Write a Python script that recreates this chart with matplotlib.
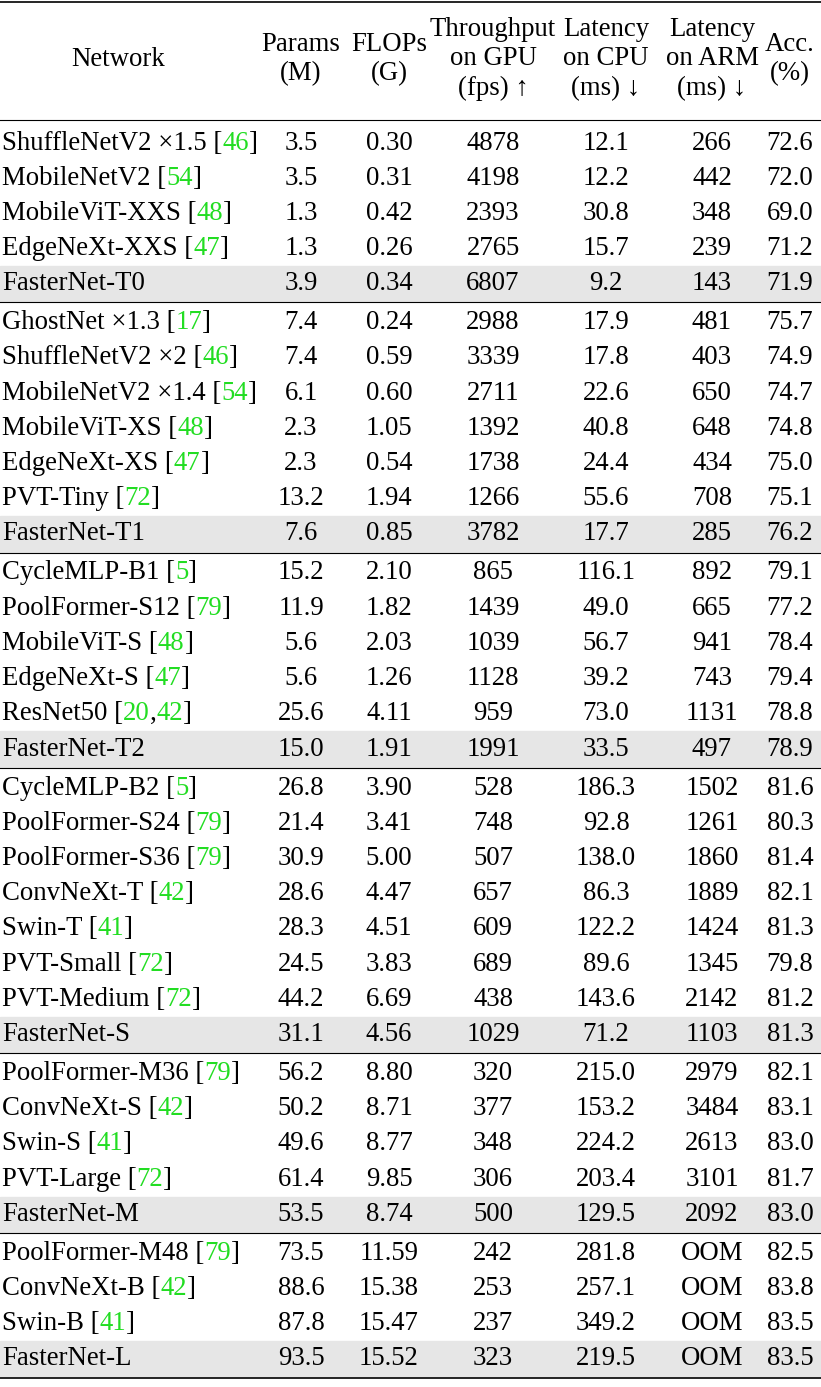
import matplotlib.pyplot as plt
from matplotlib.patches import Rectangle

plt.rcParams['font.family'] = ['Liberation Serif', 'DejaVu Serif']

# (name, citation, params, flops, gpu, cpu, arm, acc)
groups = [
    [("ShuffleNetV2 \u00d71.5", "46", "3.5", "0.30", "4878", "12.1", "266", "72.6"),
     ("MobileNetV2", "54", "3.5", "0.31", "4198", "12.2", "442", "72.0"),
     ("MobileViT-XXS", "48", "1.3", "0.42", "2393", "30.8", "348", "69.0"),
     ("EdgeNeXt-XXS", "47", "1.3", "0.26", "2765", "15.7", "239", "71.2"),
     ("FasterNet-T0", "", "3.9", "0.34", "6807", "9.2", "143", "71.9")],
    [("GhostNet \u00d71.3", "17", "7.4", "0.24", "2988", "17.9", "481", "75.7"),
     ("ShuffleNetV2 \u00d72", "46", "7.4", "0.59", "3339", "17.8", "403", "74.9"),
     ("MobileNetV2 \u00d71.4", "54", "6.1", "0.60", "2711", "22.6", "650", "74.7"),
     ("MobileViT-XS", "48", "2.3", "1.05", "1392", "40.8", "648", "74.8"),
     ("EdgeNeXt-XS", "47", "2.3", "0.54", "1738", "24.4", "434", "75.0"),
     ("PVT-Tiny", "72", "13.2", "1.94", "1266", "55.6", "708", "75.1"),
     ("FasterNet-T1", "", "7.6", "0.85", "3782", "17.7", "285", "76.2")],
    [("CycleMLP-B1", "5", "15.2", "2.10", "865", "116.1", "892", "79.1"),
     ("PoolFormer-S12", "79", "11.9", "1.82", "1439", "49.0", "665", "77.2"),
     ("MobileViT-S", "48", "5.6", "2.03", "1039", "56.7", "941", "78.4"),
     ("EdgeNeXt-S", "47", "5.6", "1.26", "1128", "39.2", "743", "79.4"),
     ("ResNet50", "20,42", "25.6", "4.11", "959", "73.0", "1131", "78.8"),
     ("FasterNet-T2", "", "15.0", "1.91", "1991", "33.5", "497", "78.9")],
    [("CycleMLP-B2", "5", "26.8", "3.90", "528", "186.3", "1502", "81.6"),
     ("PoolFormer-S24", "79", "21.4", "3.41", "748", "92.8", "1261", "80.3"),
     ("PoolFormer-S36", "79", "30.9", "5.00", "507", "138.0", "1860", "81.4"),
     ("ConvNeXt-T", "42", "28.6", "4.47", "657", "86.3", "1889", "82.1"),
     ("Swin-T", "41", "28.3", "4.51", "609", "122.2", "1424", "81.3"),
     ("PVT-Small", "72", "24.5", "3.83", "689", "89.6", "1345", "79.8"),
     ("PVT-Medium", "72", "44.2", "6.69", "438", "143.6", "2142", "81.2"),
     ("FasterNet-S", "", "31.1", "4.56", "1029", "71.2", "1103", "81.3")],
    [("PoolFormer-M36", "79", "56.2", "8.80", "320", "215.0", "2979", "82.1"),
     ("ConvNeXt-S", "42", "50.2", "8.71", "377", "153.2", "3484", "83.1"),
     ("Swin-S", "41", "49.6", "8.77", "348", "224.2", "2613", "83.0"),
     ("PVT-Large", "72", "61.4", "9.85", "306", "203.4", "3101", "81.7"),
     ("FasterNet-M", "", "53.5", "8.74", "500", "129.5", "2092", "83.0")],
    [("PoolFormer-M48", "79", "73.5", "11.59", "242", "281.8", "OOM", "82.5"),
     ("ConvNeXt-B", "42", "88.6", "15.38", "253", "257.1", "OOM", "83.8"),
     ("Swin-B", "41", "87.8", "15.47", "237", "349.2", "OOM", "83.5"),
     ("FasterNet-L", "", "93.5", "15.52", "323", "219.5", "OOM", "83.5")],
]
headers = ["Network", "Params\n(M)", "FLOPs\n(G)", "Throughput\non GPU\n(fps) \u2191",
           "Latency\non CPU\n(ms) \u2193", "Latency\non ARM\n(ms) \u2193", "Acc.\n(%)"]
col_x = [118, 301, 389, 493, 606, 712, 790]

W, H = 821, 1387
fig = plt.figure(figsize=(W / 100, H / 100), dpi=100)
ax = fig.add_axes([0, 0, 1, 1])
ax.set_xlim(0, W)
ax.set_ylim(H, 0)
ax.axis('off')
fs = 19.3
green = '#22dd22'

ax.plot([0, W], [2, 2], color='black', lw=1.2)
for i, h in enumerate(headers):
    ax.text(col_x[i], 59, h, ha='center', va='center', fontsize=fs, linespacing=1.22)
ax.plot([0, W], [120, 120], color='black', lw=0.8)

fig.canvas.draw()
r = fig.canvas.get_renderer()
inv = ax.transData.inverted()

y = 143
step = 35.2
gap = 3.8
for g in groups:
    for k, row in enumerate(g):
        if k == len(g) - 1:
            ax.add_patch(Rectangle((0, y - step / 2), W, step, color='#e6e6e6', zorder=0))
        name, cite = row[0], row[1]
        if cite:
            t = ax.text(2, y, name + " [", ha='left', va='center', fontsize=fs)
            x = inv.transform(t.get_window_extent(r))[1][0]
            parts = cite.split(",")
            for j, p in enumerate(parts):
                t = ax.text(x, y, p, ha='left', va='center', fontsize=fs, color=green)
                x = inv.transform(t.get_window_extent(r))[1][0]
                sep = "," if j < len(parts) - 1 else "]"
                t = ax.text(x, y, sep, ha='left', va='center', fontsize=fs)
                x = inv.transform(t.get_window_extent(r))[1][0]
        else:
            ax.text(2, y, name, ha='left', va='center', fontsize=fs)
        for i, v in enumerate(row[2:]):
            ax.text(col_x[i + 1], y, v, ha='center', va='center', fontsize=fs)
        y += step
    if g is not groups[-1]:
        ax.plot([0, W], [y - step / 2 + 1, y - step / 2 + 1], color='black', lw=0.8)
    y += gap
ax.plot([0, W], [1378, 1378], color='black', lw=1.2)

fig.savefig('out.png', dpi=100)
